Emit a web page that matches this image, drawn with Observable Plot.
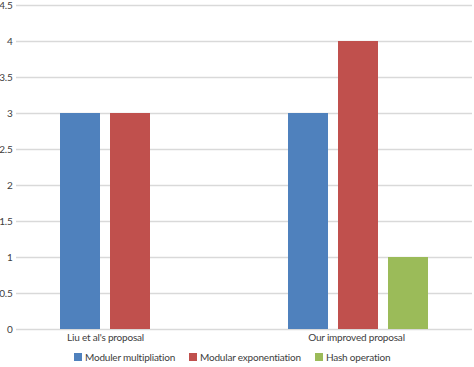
<!DOCTYPE html>
<html><head><meta charset="utf-8">
<script src="https://cdn.jsdelivr.net/npm/d3@7"></script>
<script src="https://cdn.jsdelivr.net/npm/@observablehq/plot@0.6"></script>
<style>
body{margin:0;background:#fff;font-family:Lato,sans-serif;}
#legend{display:flex;align-items:center;height:22px;margin-left:74px;font-size:10px;letter-spacing:-0.2px;color:#404040;}
#legend .item{display:flex;align-items:center;margin-right:14px;}
#legend .sw{width:8px;height:8px;margin-right:3px;}
</style></head><body><div id="chart"></div><div id="legend"></div>
<script>
const categories = ["Liu et al's proposal", "Our improved proposal"];
const seriesNames = ["Moduler multipliation", "Modular exponentiation", "Hash operation"];
const seriesColors = ["#4f81bd", "#c0504d", "#9bbb59"];
const liuValues = [3, 3, null];
const oursValues = [3, 4, 1];
const yTicks = [0, 0.5, 1, 1.5, 2, 2.5, 3, 3.5, 4, 4.5];

const valuesByCategory = [liuValues, oursValues];
const data = [];
categories.forEach((c, i) => seriesNames.forEach((s, j) => {
  const v = valuesByCategory[i][j];
  if (v != null) data.push({category: c, series: s, value: v});
}));

const plot = Plot.plot({
  width: 474,
  height: 346,
  marginLeft: 16,
  marginRight: 2,
  marginTop: 5,
  marginBottom: 17,
  style: {fontFamily: "Lato, sans-serif", fontSize: "10px", letterSpacing: "-0.2px", color: "#404040", background: "#fff", overflow: "visible"},
  fx: {domain: categories, padding: 0, axis: null},
  x: {domain: seriesNames, paddingInner: 0.2, paddingOuter: 0.88, axis: null},
  y: {domain: [0, 4.5], ticks: yTicks, tickFormat: d => String(d), label: null, axis: null},
  color: {domain: seriesNames, range: seriesColors},
  marks: [
    Plot.gridY(yTicks, {stroke: "#d9d9d9", strokeOpacity: 1, strokeWidth: 1.5}),
    Plot.axisY(yTicks, {tickSize: 0, tickPadding: 4, tickFormat: d => String(d), fill: "#404040", label: null}),
    Plot.barY(data, {fx: "category", x: "series", y: "value", fill: "series"}),
    Plot.text([categories[0]], {fx: d => d, text: d => d, frameAnchor: "bottom", dy: 11, dx: -25, fill: "#404040"}),
    Plot.text([categories[1]], {fx: d => d, text: d => d, frameAnchor: "bottom", dy: 11, dx: -2, fill: "#404040"})
  ]
});
document.getElementById("chart").appendChild(plot);

const legend = document.getElementById("legend");
seriesNames.forEach((s, i) => {
  const item = document.createElement("div");
  item.className = "item";
  const sw = document.createElement("div");
  sw.className = "sw";
  sw.style.background = seriesColors[i];
  const t = document.createElement("span");
  t.textContent = s;
  item.appendChild(sw); item.appendChild(t);
  legend.appendChild(item);
});
</script></body></html>
